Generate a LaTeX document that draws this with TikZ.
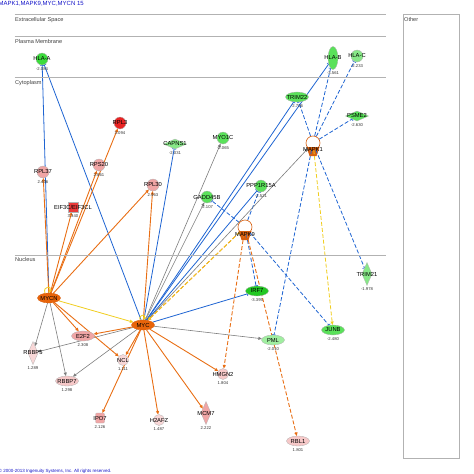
\documentclass[tikz,border=0pt]{standalone}
\usepackage{fontspec}
\setmainfont{Liberation Sans}
\usetikzlibrary{arrows.meta, shapes.geometric, backgrounds}

\definecolor{ipablue}{RGB}{30,100,210}
\definecolor{ipaorange}{RGB}{232,110,20}
\definecolor{ipayellow}{RGB}{240,205,30}
\definecolor{ipagray}{RGB}{125,125,125}
\definecolor{kinorange}{RGB}{215,95,15}
\definecolor{mycorange}{RGB}{232,100,10}
\definecolor{gA}{RGB}{60,220,60}
\definecolor{gB}{RGB}{90,225,90}
\definecolor{gC}{RGB}{135,232,135}
\definecolor{gD}{RGB}{35,200,35}
\definecolor{gE}{RGB}{160,238,160}
\definecolor{rA}{RGB}{232,35,35}
\definecolor{rB}{RGB}{240,165,165}
\definecolor{rC}{RGB}{246,200,200}
\definecolor{rD}{RGB}{248,215,215}
\definecolor{titleblue}{RGB}{20,20,200}

\tikzset{
  mol/.style={draw=black!30, line width=0.3pt, inner sep=0pt, outer sep=0pt},
  circ/.style={mol, circle, minimum size=12pt},
  oval/.style={mol, ellipse, minimum width=23pt, minimum height=10pt},
  tall/.style={mol, ellipse, minimum width=10pt, minimum height=23pt},
  vdia/.style={mol, diamond, minimum width=10pt, minimum height=23pt},
  hdia/.style={mol, diamond, minimum width=23pt, minimum height=10pt},
  sq/.style={mol, rectangle, minimum size=10pt},
  trans/.style={mol, rectangle, rounded corners=1pt, minimum width=9pt, minimum height=10pt},
  kin/.style={circle, draw=kinorange, line width=0.6pt, minimum size=14pt, inner sep=0pt},
  nm/.style={font=\fontsize{5.8}{6}\selectfont, text=black, inner sep=0pt},
  vl/.style={font=\fontsize{4.2}{5}\selectfont, text=black!80, inner sep=0pt, label distance=2.2pt},
  region/.style={draw=black!30, line width=0.8pt},
  rlab/.style={font=\fontsize{5.6}{6}\selectfont, text=black!75, anchor=north west, inner sep=0pt},
  tipA/.style={-{Triangle[length=3.5pt,width=3pt]}},
  tipB/.style={-{Bar[width=4pt,line width=0.6pt]}},
  bluesolid/.style={draw=ipablue, line width=0.8pt, tipB},
  bluedash/.style={draw=ipablue, line width=0.8pt, dash pattern=on 4pt off 2pt, tipB},
  grayline/.style={draw=ipagray, line width=0.6pt, tipA},
  orangeline/.style={draw=ipaorange, line width=0.9pt, tipA},
  orangedash/.style={draw=ipaorange, line width=0.9pt, dash pattern=on 4pt off 2pt, tipA},
  yellowline/.style={draw=ipayellow, line width=0.8pt, tipA},
  yellowdash/.style={draw=ipayellow, line width=0.8pt, dash pattern=on 4pt off 2pt, tipA},
}

\begin{document}
\begin{tikzpicture}[x=1pt, y=-1pt]
  \useasboundingbox (0,0) rectangle (474,474);

  % compartments
  \node[font=\fontsize{6}{6}\selectfont, text=titleblue, anchor=west, inner sep=0pt] (title) at (-1.5,4) {MAPK1,MAPK9,MYC,MYCN 15};
  \draw[region] (14.5,14.5) -- (386,14.5);
  \draw[region] (14.5,36.5) -- (386,36.5);
  \draw[region] (14.5,77.5) -- (386,77.5);
  \draw[region] (14.5,255) -- (386,255);
  \node[rlab] (extra) at (15,17) {Extracellular Space};
  \node[rlab] (plasma) at (15,39) {Plasma Membrane};
  \node[rlab] (cyto) at (15,80) {Cytoplasm};
  \node[rlab] (nucl) at (15,257.5) {Nucleus};
  \draw[region, line width=0.7pt] (403,14.5) rectangle (459,458.5);
  \node[rlab] (other) at (404,17) {Other};
  \node[font=\fontsize{4.5}{5}\selectfont, text=titleblue, anchor=west, inner sep=0pt] (copy) at (-1.5,471) {\textcopyright{} 2000-2013 Ingenuity Systems, Inc. All rights reserved.};

  % plasma membrane
  \node[circ, fill=gA, label={[nm]center:HLA-A}, label={[vl]below:-2.084}] (hlaa) at (42,59) {};
  \node[tall, fill=gB, label={[nm]center:HLA-B}, label={[vl]below:-3.561}] (hlab) at (333,58) {};
  \node[circ, fill=gC, label={[nm]center:HLA-C}, label={[vl]below:-2.233}] (hlac) at (357,56) {};

  % cytoplasm
  \node[oval, fill=gB, label={[nm]center:TRIM22}, label={[vl]below:-2.706}] (trim22) at (297,97) {};
  \node[hdia, fill=gB, label={[nm]center:PSME2}, label={[vl]below:-2.630}] (psme2) at (357,116) {};
  \node[kin, label={[nm, yshift=-7pt]center:MAPK1}] (mapk1) at (313,143) {};
  \node[circ, fill=rA, label={[nm]center:RPL3}, label={[vl]below:3.094}] (rpl3) at (120,123) {};
  \node[circ, fill=rB, label={[nm]center:RPL37}, label={[vl]below:2.406}] (rpl37) at (43,172) {};
  \node[circ, fill=rB, label={[nm]center:RPS20}, label={[vl]below:2.861}] (rps20) at (99,165) {};
  \node[sq, fill=rA!90!white, label={[nm]center:EIF3C/EIF3CL}, label={[vl]below:3.340}] (eif3c) at (73,207) {};
  \node[circ, fill=rB, label={[nm]center:RPL30}, label={[vl]below:2.463}] (rpl30) at (153,185) {};
  \node[hdia, fill=gC, label={[nm]center:CAPNS1}, label={[vl]below:-2.031}] (capns1) at (175,144) {};
  \node[circ, fill=gB, label={[nm]center:MYO1C}, label={[vl]below:-2.065}] (myo1c) at (223,138) {};
  \node[circ, fill=gB, label={[nm]center:GADD45B}, label={[vl]below:-2.107}] (gadd45b) at (207,197) {};
  \node[circ, fill=gB, label={[nm]center:PPP1R15A}, label={[vl]below:-2.521}] (ppp1r15a) at (261,186) {};
  \node[kin, label={[nm, yshift=-7pt]center:MAPK9}] (mapk9) at (245,227) {};

  % nucleus
  \node[vdia, fill=gC, label={[nm]center:TRIM21}, label={[vl]below:-1.978}] (trim21) at (367,274) {};
  \node[oval, fill=gD, label={[nm]center:IRF7}, label={[vl]below:-3.395}] (irf7) at (257,291) {};
  \node[oval, fill=gB, label={[nm]center:JUNB}, label={[vl]below:-2.480}] (junb) at (333,330) {};
  \node[oval, fill=gE, label={[nm]center:PML}, label={[vl]below:-2.010}] (pml) at (273,340) {};
  \node[oval, fill=mycorange, draw=kinorange, label={[nm]center:MYCN}] (mycn) at (49,298) {};
  \node[oval, fill=mycorange, draw=kinorange, label={[nm]center:MYC}] (myc) at (143,325) {};
  \node[oval, fill=rB, label={[nm]center:E2F2}, label={[vl]below:2.308}] (e2f2) at (83,336) {};
  \node[vdia, fill=rD, label={[nm]center:RBBP5}, label={[vl]below:1.289}] (rbbp5) at (33,353) {};
  \node[oval, fill=rC, label={[nm]center:RBBP7}, label={[vl]below:1.298}] (rbbp7) at (67,381) {};
  \node[circ, fill=rD, minimum size=11pt, label={[nm]center:NCL}, label={[vl]below:1.111}] (ncl) at (123,360) {};
  \node[circ, fill=rC, minimum size=11pt, label={[nm]center:HMGN2}, label={[vl]below:1.804}] (hmgn2) at (223,374) {};
  \node[trans, fill=rB, label={[nm]center:IPO7}, label={[vl]below:2.126}] (ipo7) at (100,418) {};
  \node[circ, fill=rD, minimum size=11pt, label={[nm]center:H2AFZ}, label={[vl]below:1.487}] (h2afz) at (159,420) {};
  \node[vdia, fill=rB, label={[nm]center:MCM7}, label={[vl]below:2.222}] (mcm7) at (206,413) {};
  \node[oval, fill=rC, label={[nm]center:RBL1}, label={[vl]below:1.801}] (rbl1) at (298,441) {};

  \begin{scope}[on background layer]
    % kinase wedges
    \fill[kinorange] (mapk1.center) ++(-6.5,4) -- ++(13,0) -- ++(-3,9) -- ++(-7,0) -- cycle;
    \fill[kinorange] (mapk9.center) ++(-6.5,4) -- ++(13,0) -- ++(-3,9) -- ++(-7,0) -- cycle;

    \draw[bluesolid] (mycn) -- (hlaa);
    \draw[bluesolid] (myc) -- (hlaa);
    \draw[bluesolid] (myc) -- (capns1);
    \draw[bluesolid] (myc) -- (trim22);
    \draw[bluesolid] (myc) -- (hlab);
    \draw[bluesolid] (myc) -- (ppp1r15a);
    \draw[bluesolid] (myc) -- (irf7);

    \draw[bluedash] (mapk1) -- (hlab);
    \draw[bluedash] (mapk1) -- (hlac);
    \draw[bluedash] (mapk1) -- (trim22);
    \draw[bluedash] (mapk1) -- (psme2);
    \draw[bluedash] (mapk1) -- (trim21);
    \draw[bluedash] (mapk1) -- (pml);
    \draw[bluedash] (mapk9) -- (gadd45b);
    \draw[bluedash] (mapk9) -- (ppp1r15a);
    \draw[bluedash] (mapk9) -- (irf7);
    \draw[bluedash] (mapk9) -- (junb);

    \draw[grayline] (myc) -- (myo1c);
    \draw[grayline] (myc) -- (gadd45b);
    \draw[grayline] (myc) -- (mapk1);
    \draw[grayline] (myc) -- (pml);
    \draw[grayline] (myc) -- (rbbp5);
    \draw[grayline] (myc) -- (rbbp7);
    \draw[grayline] (mycn) -- (rbbp5);
    \draw[grayline] (mycn) -- (rbbp7);

    \draw[orangeline] (mycn) -- (rpl37);
    \draw[orangeline] (mycn) -- (eif3c);
    \draw[orangeline] (mycn) -- (rps20);
    \draw[orangeline] (mycn) -- (rpl3);
    \draw[orangeline] (mycn) -- (rpl30);
    \draw[orangeline] (myc) -- (rpl30);
    \draw[orangeline] (mycn) -- (e2f2);
    \draw[orangeline] (mycn) -- (ncl);
    \draw[orangeline] (myc) -- (e2f2);
    \draw[orangeline] (myc) -- (ncl);
    \draw[orangeline] (myc) -- (ipo7);
    \draw[orangeline] (myc) -- (h2afz);
    \draw[orangeline] (myc) -- (mcm7);
    \draw[orangeline] (myc) -- (hmgn2);

    \draw[orangedash] (mapk9) -- (myc);
    \draw[orangedash] (mapk9) -- (hmgn2);
    \draw[orangedash] (mapk9) -- (rbl1);

    \draw[yellowline] (mycn) -- (myc);
    \draw[yellowdash] (mapk9) -- (myc);
    \draw[yellowdash] (mapk1) -- (junb);
    \draw[yellowline] (mycn.130) to[out=110, in=60, looseness=6] (mycn.95);
    \draw[yellowline] (myc.120) to[out=110, in=60, looseness=6] (myc.90);
  \end{scope}
\end{tikzpicture}
\end{document}
